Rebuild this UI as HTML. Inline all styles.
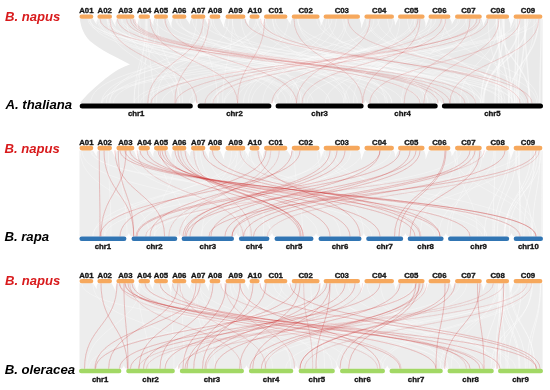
<!DOCTYPE html>
<html><head><meta charset="utf-8"><style>
html,body{margin:0;padding:0;background:#fff;}
svg{display:block;}
text{font-family:'Liberation Sans', Arial, sans-serif;font-weight:bold;}
</style></head><body>
<svg width="550" height="390" viewBox="0 0 550 390">
<defs><filter id="bl" x="-5%" y="-5%" width="110%" height="110%"><feGaussianBlur stdDeviation="0.45"/></filter><clipPath id="cp0"><path d="M79.8,18.8 L542.5,18.8 L542.5,103.4 L80,103.4 C84,97 100,82 113,73 C120,68 126,66 130,64.5 C118,58 100,50 90,41 C84,35 81,28 79.8,18.8 Z"/></clipPath><clipPath id="cp1"><path d="M79.5,150.4 L542.6,150.4 L542.6,236.5 L79.5,236.5 Z"/></clipPath><clipPath id="cp2"><path d="M79.5,283.3 L542.6,283.3 L542.6,368.8 L79.5,368.8 Z"/></clipPath></defs>
<rect width="550" height="390" fill="#fff"/>
<path d="M79.8,18.8 L542.5,18.8 L542.5,103.4 L80,103.4 C84,97 100,82 113,73 C120,68 126,66 130,64.5 C118,58 100,50 90,41 C84,35 81,28 79.8,18.8 Z" fill="#e9e9e9"/>
<g clip-path="url(#cp0)" fill="none" stroke="#fff" stroke-opacity="0.55" stroke-width="0.6">
<path d="M229.0,18.8 C229.0,61.1 149.4,61.1 149.4,103.4"/>
<path d="M379.4,18.8 C379.4,61.1 113.3,61.1 113.3,103.4"/>
<path d="M326.5,18.8 C326.5,61.1 248.2,61.1 248.2,103.4"/>
<path d="M106.7,18.8 C106.7,61.1 313.4,61.1 313.4,103.4"/>
<path d="M97.2,18.8 C97.2,61.1 279.5,61.1 279.5,103.4"/>
<path d="M275.3,18.8 C275.3,61.1 460.4,61.1 460.4,103.4"/>
<path d="M136.9,18.8 C136.9,61.1 182.7,61.1 182.7,103.4"/>
<path d="M368.6,18.8 C368.6,61.1 515.9,61.1 515.9,103.4"/>
<path d="M345.5,18.8 C345.5,61.1 262.5,61.1 262.5,103.4"/>
<path d="M529.1,18.8 C529.1,61.1 101.4,61.1 101.4,103.4"/>
<path d="M474.9,18.8 C474.9,61.1 213.2,61.1 213.2,103.4"/>
<path d="M146.4,18.8 C146.4,61.1 134.2,61.1 134.2,103.4"/>
<path d="M221.9,18.8 C221.9,61.1 455.4,61.1 455.4,103.4"/>
<path d="M163.1,18.8 C163.1,61.1 347.5,61.1 347.5,103.4"/>
<path d="M373.9,18.8 C373.9,61.1 251.3,61.1 251.3,103.4"/>
<path d="M332.0,18.8 C332.0,61.1 108.9,61.1 108.9,103.4"/>
<path d="M107.4,18.8 C107.4,61.1 174.7,61.1 174.7,103.4"/>
<path d="M393.0,18.8 C393.0,61.1 276.7,61.1 276.7,103.4"/>
<path d="M224.5,18.8 C224.5,61.1 349.4,61.1 349.4,103.4"/>
<path d="M288.5,18.8 C288.5,61.1 217.9,61.1 217.9,103.4"/>
<path d="M445.4,18.8 C445.4,61.1 401.5,61.1 401.5,103.4"/>
<path d="M192.3,18.8 C192.3,61.1 344.2,61.1 344.2,103.4"/>
<path d="M321.6,18.8 C321.6,61.1 482.6,61.1 482.6,103.4"/>
<path d="M415.5,18.8 C415.5,61.1 212.5,61.1 212.5,103.4"/>
<path d="M530.9,18.8 C530.9,61.1 134.3,61.1 134.3,103.4"/>
<path d="M272.3,18.8 C272.3,61.1 428.3,61.1 428.3,103.4"/>
<path d="M149.9,18.8 C149.9,61.1 304.9,61.1 304.9,103.4"/>
<path d="M98.0,18.8 C98.0,61.1 387.4,61.1 387.4,103.4"/>
<path d="M431.7,18.8 C431.7,61.1 343.6,61.1 343.6,103.4"/>
<path d="M482.7,18.8 C482.7,61.1 224.3,61.1 224.3,103.4"/>
<path d="M399.8,18.8 C399.8,61.1 353.4,61.1 353.4,103.4"/>
<path d="M346.8,18.8 C346.8,61.1 289.9,61.1 289.9,103.4"/>
<path d="M466.4,18.8 C466.4,61.1 514.6,61.1 514.6,103.4"/>
<path d="M298.1,18.8 C298.1,61.1 385.5,61.1 385.5,103.4"/>
<path d="M107.9,18.8 C107.9,61.1 402.7,61.1 402.7,103.4"/>
<path d="M377.7,18.8 C377.7,61.1 536.8,61.1 536.8,103.4"/>
<path d="M458.1,18.8 C458.1,61.1 210.9,61.1 210.9,103.4"/>
<path d="M257.5,18.8 C257.5,61.1 387.6,61.1 387.6,103.4"/>
<path d="M90.4,18.8 C90.4,61.1 292.4,61.1 292.4,103.4"/>
<path d="M157.3,18.8 C157.3,61.1 133.9,61.1 133.9,103.4"/>
<path d="M107.1,18.8 C107.1,61.1 433.4,61.1 433.4,103.4"/>
<path d="M139.5,18.8 C139.5,61.1 193.9,61.1 193.9,103.4"/>
<path d="M259.8,18.8 C259.8,61.1 480.9,61.1 480.9,103.4"/>
<path d="M117.1,18.8 C117.1,61.1 286.6,61.1 286.6,103.4"/>
</g>
<path d="M79.5,150.4 L542.6,150.4 L542.6,236.5 L79.5,236.5 Z" fill="#ededed"/>
<g clip-path="url(#cp1)" fill="none" stroke="#fff" stroke-opacity="0.55" stroke-width="0.6">
<path d="M332.7,150.4 C332.7,193.4 486.4,193.4 486.4,236.5"/>
<path d="M456.9,150.4 C456.9,193.4 477.4,193.4 477.4,236.5"/>
<path d="M208.1,150.4 C208.1,193.4 271.0,193.4 271.0,236.5"/>
<path d="M245.0,150.4 C245.0,193.4 486.7,193.4 486.7,236.5"/>
<path d="M520.6,150.4 C520.6,193.4 149.4,193.4 149.4,236.5"/>
<path d="M161.1,150.4 C161.1,193.4 186.7,193.4 186.7,236.5"/>
<path d="M187.3,150.4 C187.3,193.4 303.1,193.4 303.1,236.5"/>
<path d="M351.0,150.4 C351.0,193.4 200.9,193.4 200.9,236.5"/>
<path d="M81.9,150.4 C81.9,193.4 272.7,193.4 272.7,236.5"/>
<path d="M249.9,150.4 C249.9,193.4 340.5,193.4 340.5,236.5"/>
<path d="M518.4,150.4 C518.4,193.4 397.6,193.4 397.6,236.5"/>
<path d="M317.1,150.4 C317.1,193.4 364.1,193.4 364.1,236.5"/>
<path d="M391.1,150.4 C391.1,193.4 104.8,193.4 104.8,236.5"/>
<path d="M493.8,150.4 C493.8,193.4 438.8,193.4 438.8,236.5"/>
<path d="M482.3,150.4 C482.3,193.4 447.0,193.4 447.0,236.5"/>
<path d="M260.5,150.4 C260.5,193.4 263.5,193.4 263.5,236.5"/>
<path d="M127.6,150.4 C127.6,193.4 371.8,193.4 371.8,236.5"/>
<path d="M108.6,150.4 C108.6,193.4 111.0,193.4 111.0,236.5"/>
<path d="M176.0,150.4 C176.0,193.4 154.7,193.4 154.7,236.5"/>
<path d="M236.4,150.4 C236.4,193.4 104.2,193.4 104.2,236.5"/>
<path d="M80.1,150.4 C80.1,193.4 149.6,193.4 149.6,236.5"/>
<path d="M126.7,150.4 C126.7,193.4 247.3,193.4 247.3,236.5"/>
<path d="M91.7,150.4 C91.7,193.4 482.2,193.4 482.2,236.5"/>
<path d="M362.5,150.4 C362.5,193.4 148.3,193.4 148.3,236.5"/>
<path d="M196.0,150.4 C196.0,193.4 239.8,193.4 239.8,236.5"/>
<path d="M247.5,150.4 C247.5,193.4 136.5,193.4 136.5,236.5"/>
<path d="M470.5,150.4 C470.5,193.4 536.8,193.4 536.8,236.5"/>
<path d="M294.4,150.4 C294.4,193.4 302.6,193.4 302.6,236.5"/>
<path d="M119.5,150.4 C119.5,193.4 127.0,193.4 127.0,236.5"/>
<path d="M237.6,150.4 C237.6,193.4 201.8,193.4 201.8,236.5"/>
<path d="M461.3,150.4 C461.3,193.4 154.3,193.4 154.3,236.5"/>
<path d="M90.6,150.4 C90.6,193.4 517.5,193.4 517.5,236.5"/>
<path d="M323.0,150.4 C323.0,193.4 147.4,193.4 147.4,236.5"/>
<path d="M329.9,150.4 C329.9,193.4 92.4,193.4 92.4,236.5"/>
<path d="M322.9,150.4 C322.9,193.4 530.1,193.4 530.1,236.5"/>
<path d="M477.1,150.4 C477.1,193.4 400.3,193.4 400.3,236.5"/>
<path d="M200.1,150.4 C200.1,193.4 248.7,193.4 248.7,236.5"/>
<path d="M156.8,150.4 C156.8,193.4 435.1,193.4 435.1,236.5"/>
<path d="M325.0,150.4 C325.0,193.4 438.4,193.4 438.4,236.5"/>
<path d="M231.6,150.4 C231.6,193.4 182.6,193.4 182.6,236.5"/>
<path d="M453.3,150.4 C453.3,193.4 533.1,193.4 533.1,236.5"/>
<path d="M472.2,150.4 C472.2,193.4 450.8,193.4 450.8,236.5"/>
<path d="M456.4,150.4 C456.4,193.4 420.3,193.4 420.3,236.5"/>
<path d="M184.3,150.4 C184.3,193.4 318.1,193.4 318.1,236.5"/>
<path d="M243.6,150.4 C243.6,193.4 93.3,193.4 93.3,236.5"/>
</g>
<path d="M79.5,283.3 L542.6,283.3 L542.6,368.8 L79.5,368.8 Z" fill="#ededed"/>
<g clip-path="url(#cp2)" fill="none" stroke="#fff" stroke-opacity="0.55" stroke-width="0.6">
<path d="M92.9,283.3 C92.9,326.1 208.5,326.1 208.5,368.8"/>
<path d="M199.2,283.3 C199.2,326.1 398.6,326.1 398.6,368.8"/>
<path d="M520.0,283.3 C520.0,326.1 285.7,326.1 285.7,368.8"/>
<path d="M511.0,283.3 C511.0,326.1 534.5,326.1 534.5,368.8"/>
<path d="M519.3,283.3 C519.3,326.1 247.7,326.1 247.7,368.8"/>
<path d="M181.4,283.3 C181.4,326.1 184.3,326.1 184.3,368.8"/>
<path d="M170.5,283.3 C170.5,326.1 174.0,326.1 174.0,368.8"/>
<path d="M367.1,283.3 C367.1,326.1 494.1,326.1 494.1,368.8"/>
<path d="M466.6,283.3 C466.6,326.1 300.6,326.1 300.6,368.8"/>
<path d="M380.4,283.3 C380.4,326.1 447.8,326.1 447.8,368.8"/>
<path d="M119.0,283.3 C119.0,326.1 383.9,326.1 383.9,368.8"/>
<path d="M498.5,283.3 C498.5,326.1 439.9,326.1 439.9,368.8"/>
<path d="M425.1,283.3 C425.1,326.1 299.9,326.1 299.9,368.8"/>
<path d="M162.1,283.3 C162.1,326.1 443.0,326.1 443.0,368.8"/>
<path d="M233.0,283.3 C233.0,326.1 448.4,326.1 448.4,368.8"/>
<path d="M527.0,283.3 C527.0,326.1 262.1,326.1 262.1,368.8"/>
<path d="M264.6,283.3 C264.6,326.1 515.5,326.1 515.5,368.8"/>
<path d="M413.4,283.3 C413.4,326.1 158.2,326.1 158.2,368.8"/>
<path d="M138.4,283.3 C138.4,326.1 149.5,326.1 149.5,368.8"/>
<path d="M496.2,283.3 C496.2,326.1 451.0,326.1 451.0,368.8"/>
<path d="M147.2,283.3 C147.2,326.1 460.2,326.1 460.2,368.8"/>
<path d="M530.9,283.3 C530.9,326.1 382.3,326.1 382.3,368.8"/>
<path d="M241.2,283.3 C241.2,326.1 332.4,326.1 332.4,368.8"/>
<path d="M140.3,283.3 C140.3,326.1 86.6,326.1 86.6,368.8"/>
<path d="M526.6,283.3 C526.6,326.1 378.9,326.1 378.9,368.8"/>
<path d="M322.2,283.3 C322.2,326.1 509.5,326.1 509.5,368.8"/>
<path d="M279.6,283.3 C279.6,326.1 481.0,326.1 481.0,368.8"/>
<path d="M460.0,283.3 C460.0,326.1 177.1,326.1 177.1,368.8"/>
<path d="M195.8,283.3 C195.8,326.1 214.8,326.1 214.8,368.8"/>
<path d="M190.6,283.3 C190.6,326.1 349.8,326.1 349.8,368.8"/>
<path d="M199.3,283.3 C199.3,326.1 272.7,326.1 272.7,368.8"/>
<path d="M140.3,283.3 C140.3,326.1 498.6,326.1 498.6,368.8"/>
<path d="M242.7,283.3 C242.7,326.1 290.8,326.1 290.8,368.8"/>
<path d="M348.3,283.3 C348.3,326.1 496.0,326.1 496.0,368.8"/>
<path d="M273.5,283.3 C273.5,326.1 502.2,326.1 502.2,368.8"/>
<path d="M310.8,283.3 C310.8,326.1 324.6,326.1 324.6,368.8"/>
<path d="M320.8,283.3 C320.8,326.1 88.6,326.1 88.6,368.8"/>
<path d="M282.5,283.3 C282.5,326.1 164.2,326.1 164.2,368.8"/>
<path d="M81.8,283.3 C81.8,326.1 447.6,326.1 447.6,368.8"/>
<path d="M159.3,283.3 C159.3,326.1 297.8,326.1 297.8,368.8"/>
<path d="M413.6,283.3 C413.6,326.1 336.0,326.1 336.0,368.8"/>
<path d="M230.0,283.3 C230.0,326.1 318.4,326.1 318.4,368.8"/>
<path d="M335.5,283.3 C335.5,326.1 440.8,326.1 440.8,368.8"/>
<path d="M128.8,283.3 C128.8,326.1 337.7,326.1 337.7,368.8"/>
<path d="M194.3,283.3 C194.3,326.1 207.4,326.1 207.4,368.8"/>
</g>
<path d="M92.7,18.3 Q94.8,21.8 96.8,24.8 Q95.8,21.8 98.0,18.3 Z" fill="#fff" fill-opacity="0.9"/>
<path d="M111.4,18.3 Q113.7,22.8 115.7,26.8 Q114.7,22.8 117.0,18.3 Z" fill="#fff" fill-opacity="0.9"/>
<path d="M133.8,18.3 Q135.9,23.8 137.9,28.8 Q136.9,23.8 139.1,18.3 Z" fill="#fff" fill-opacity="0.9"/>
<path d="M149.4,18.3 Q151.5,22.3 153.5,25.8 Q152.5,22.3 154.6,18.3 Z" fill="#fff" fill-opacity="0.9"/>
<path d="M167.4,18.3 Q169.6,23.3 171.6,27.8 Q170.6,23.3 172.8,18.3 Z" fill="#fff" fill-opacity="0.9"/>
<path d="M185.8,18.3 Q188.2,21.8 190.2,24.8 Q189.2,21.8 191.6,18.3 Z" fill="#fff" fill-opacity="0.9"/>
<path d="M204.8,18.3 Q206.9,22.8 208.9,26.8 Q207.9,22.8 210.1,18.3 Z" fill="#fff" fill-opacity="0.9"/>
<path d="M219.8,18.3 Q222.4,23.8 224.4,28.8 Q223.4,23.8 226.1,18.3 Z" fill="#fff" fill-opacity="0.9"/>
<path d="M244.8,18.3 Q246.9,22.3 248.9,25.8 Q247.9,22.3 250.1,18.3 Z" fill="#fff" fill-opacity="0.9"/>
<path d="M259.0,18.3 Q261.3,23.3 263.3,27.8 Q262.3,23.3 264.6,18.3 Z" fill="#fff" fill-opacity="0.9"/>
<path d="M286.8,18.3 Q289.0,21.8 291.0,24.8 Q290.0,21.8 292.3,18.3 Z" fill="#fff" fill-opacity="0.9"/>
<path d="M319.0,18.3 Q321.1,22.8 320.6,26.8 Q322.1,22.8 324.2,18.3 Z" fill="#fff" fill-opacity="0.9"/>
<path d="M359.4,18.3 Q361.7,23.8 361.2,28.8 Q362.7,23.8 365.0,18.3 Z" fill="#fff" fill-opacity="0.9"/>
<path d="M393.4,18.3 Q395.5,22.3 395.0,25.8 Q396.5,22.3 398.6,18.3 Z" fill="#fff" fill-opacity="0.9"/>
<path d="M424.0,18.3 Q426.1,23.3 425.6,27.8 Q427.1,23.3 429.1,18.3 Z" fill="#fff" fill-opacity="0.9"/>
<path d="M449.8,18.3 Q452.2,21.8 451.7,24.8 Q453.2,21.8 455.6,18.3 Z" fill="#fff" fill-opacity="0.9"/>
<path d="M481.2,18.3 Q483.4,22.8 482.9,26.8 Q484.4,22.8 486.6,18.3 Z" fill="#fff" fill-opacity="0.9"/>
<path d="M508.5,18.3 Q510.9,23.8 510.4,28.8 Q511.9,23.8 514.2,18.3 Z" fill="#fff" fill-opacity="0.9"/>
<path d="M192.3,103.9 Q194.9,101.7 195.2,99.9 Q195.5,101.7 198.1,103.9 Z" fill="#fff" fill-opacity="0.9"/>
<path d="M270.9,103.9 Q273.2,101.7 273.5,99.9 Q273.8,101.7 276.1,103.9 Z" fill="#fff" fill-opacity="0.9"/>
<path d="M363.1,103.9 Q365.3,101.7 365.6,99.9 Q365.9,101.7 368.1,103.9 Z" fill="#fff" fill-opacity="0.9"/>
<path d="M437.2,103.9 Q439.5,101.7 439.8,99.9 Q440.1,101.7 442.4,103.9 Z" fill="#fff" fill-opacity="0.9"/>
<path d="M92.7,149.9 Q94.8,153.4 96.8,156.4 Q95.8,153.4 98.0,149.9 Z" fill="#fff" fill-opacity="0.9"/>
<path d="M111.4,149.9 Q113.7,154.4 115.7,158.4 Q114.7,154.4 117.0,149.9 Z" fill="#fff" fill-opacity="0.9"/>
<path d="M133.8,149.9 Q135.9,155.4 137.9,160.4 Q136.9,155.4 139.1,149.9 Z" fill="#fff" fill-opacity="0.9"/>
<path d="M149.4,149.9 Q151.5,153.9 153.5,157.4 Q152.5,153.9 154.6,149.9 Z" fill="#fff" fill-opacity="0.9"/>
<path d="M167.4,149.9 Q169.6,154.9 171.6,159.4 Q170.6,154.9 172.8,149.9 Z" fill="#fff" fill-opacity="0.9"/>
<path d="M185.8,149.9 Q188.2,153.4 190.2,156.4 Q189.2,153.4 191.6,149.9 Z" fill="#fff" fill-opacity="0.9"/>
<path d="M204.8,149.9 Q206.9,154.4 208.9,158.4 Q207.9,154.4 210.1,149.9 Z" fill="#fff" fill-opacity="0.9"/>
<path d="M219.8,149.9 Q222.4,155.4 224.4,160.4 Q223.4,155.4 226.1,149.9 Z" fill="#fff" fill-opacity="0.9"/>
<path d="M244.8,149.9 Q246.9,153.9 248.9,157.4 Q247.9,153.9 250.1,149.9 Z" fill="#fff" fill-opacity="0.9"/>
<path d="M259.0,149.9 Q261.3,154.9 263.3,159.4 Q262.3,154.9 264.6,149.9 Z" fill="#fff" fill-opacity="0.9"/>
<path d="M286.8,149.9 Q289.0,153.4 291.0,156.4 Q290.0,153.4 292.3,149.9 Z" fill="#fff" fill-opacity="0.9"/>
<path d="M319.0,149.9 Q321.1,154.4 320.6,158.4 Q322.1,154.4 324.2,149.9 Z" fill="#fff" fill-opacity="0.9"/>
<path d="M359.4,149.9 Q361.7,155.4 361.2,160.4 Q362.7,155.4 365.0,149.9 Z" fill="#fff" fill-opacity="0.9"/>
<path d="M393.4,149.9 Q395.5,153.9 395.0,157.4 Q396.5,153.9 398.6,149.9 Z" fill="#fff" fill-opacity="0.9"/>
<path d="M424.0,149.9 Q426.1,154.9 425.6,159.4 Q427.1,154.9 429.1,149.9 Z" fill="#fff" fill-opacity="0.9"/>
<path d="M449.8,149.9 Q452.2,153.4 451.7,156.4 Q453.2,153.4 455.6,149.9 Z" fill="#fff" fill-opacity="0.9"/>
<path d="M481.2,149.9 Q483.4,154.4 482.9,158.4 Q484.4,154.4 486.6,149.9 Z" fill="#fff" fill-opacity="0.9"/>
<path d="M508.5,149.9 Q510.9,155.4 510.4,160.4 Q511.9,155.4 514.2,149.9 Z" fill="#fff" fill-opacity="0.9"/>
<path d="M125.9,237.0 Q128.6,234.8 128.9,233.0 Q129.2,234.8 132.0,237.0 Z" fill="#fff" fill-opacity="0.9"/>
<path d="M176.8,237.0 Q179.1,234.8 179.4,233.0 Q179.8,234.8 182.1,237.0 Z" fill="#fff" fill-opacity="0.9"/>
<path d="M233.5,237.0 Q236.1,234.8 236.4,233.0 Q236.8,234.8 239.4,237.0 Z" fill="#fff" fill-opacity="0.9"/>
<path d="M268.9,237.0 Q271.6,234.8 271.9,233.0 Q272.2,234.8 275.0,237.0 Z" fill="#fff" fill-opacity="0.9"/>
<path d="M313.0,237.0 Q315.7,234.8 316.0,233.0 Q316.3,234.8 319.0,237.0 Z" fill="#fff" fill-opacity="0.9"/>
<path d="M361.0,237.0 Q363.6,234.8 363.9,233.0 Q364.2,234.8 366.7,237.0 Z" fill="#fff" fill-opacity="0.9"/>
<path d="M402.7,237.0 Q405.1,234.8 405.4,233.0 Q405.8,234.8 408.2,237.0 Z" fill="#fff" fill-opacity="0.9"/>
<path d="M443.1,237.0 Q445.5,234.8 445.8,233.0 Q446.1,234.8 448.5,237.0 Z" fill="#fff" fill-opacity="0.9"/>
<path d="M508.7,237.0 Q511.2,234.8 511.5,233.0 Q511.8,234.8 514.2,237.0 Z" fill="#fff" fill-opacity="0.9"/>
<path d="M92.7,282.8 Q94.8,286.3 96.8,289.3 Q95.8,286.3 98.0,282.8 Z" fill="#fff" fill-opacity="0.9"/>
<path d="M111.4,282.8 Q113.7,287.3 115.7,291.3 Q114.7,287.3 117.0,282.8 Z" fill="#fff" fill-opacity="0.9"/>
<path d="M133.8,282.8 Q135.9,288.3 137.9,293.3 Q136.9,288.3 139.1,282.8 Z" fill="#fff" fill-opacity="0.9"/>
<path d="M149.4,282.8 Q151.5,286.8 153.5,290.3 Q152.5,286.8 154.6,282.8 Z" fill="#fff" fill-opacity="0.9"/>
<path d="M167.4,282.8 Q169.6,287.8 171.6,292.3 Q170.6,287.8 172.8,282.8 Z" fill="#fff" fill-opacity="0.9"/>
<path d="M185.8,282.8 Q188.2,286.3 190.2,289.3 Q189.2,286.3 191.6,282.8 Z" fill="#fff" fill-opacity="0.9"/>
<path d="M204.8,282.8 Q206.9,287.3 208.9,291.3 Q207.9,287.3 210.1,282.8 Z" fill="#fff" fill-opacity="0.9"/>
<path d="M219.8,282.8 Q222.4,288.3 224.4,293.3 Q223.4,288.3 226.1,282.8 Z" fill="#fff" fill-opacity="0.9"/>
<path d="M244.8,282.8 Q246.9,286.8 248.9,290.3 Q247.9,286.8 250.1,282.8 Z" fill="#fff" fill-opacity="0.9"/>
<path d="M259.0,282.8 Q261.3,287.8 263.3,292.3 Q262.3,287.8 264.6,282.8 Z" fill="#fff" fill-opacity="0.9"/>
<path d="M286.8,282.8 Q289.0,286.3 291.0,289.3 Q290.0,286.3 292.3,282.8 Z" fill="#fff" fill-opacity="0.9"/>
<path d="M319.0,282.8 Q321.1,287.3 320.6,291.3 Q322.1,287.3 324.2,282.8 Z" fill="#fff" fill-opacity="0.9"/>
<path d="M359.4,282.8 Q361.7,288.3 361.2,293.3 Q362.7,288.3 365.0,282.8 Z" fill="#fff" fill-opacity="0.9"/>
<path d="M393.4,282.8 Q395.5,286.8 395.0,290.3 Q396.5,286.8 398.6,282.8 Z" fill="#fff" fill-opacity="0.9"/>
<path d="M424.0,282.8 Q426.1,287.8 425.6,292.3 Q427.1,287.8 429.1,282.8 Z" fill="#fff" fill-opacity="0.9"/>
<path d="M449.8,282.8 Q452.2,286.3 451.7,289.3 Q453.2,286.3 455.6,282.8 Z" fill="#fff" fill-opacity="0.9"/>
<path d="M481.2,282.8 Q483.4,287.3 482.9,291.3 Q484.4,287.3 486.6,282.8 Z" fill="#fff" fill-opacity="0.9"/>
<path d="M508.5,282.8 Q510.9,288.3 510.4,293.3 Q511.9,288.3 514.2,282.8 Z" fill="#fff" fill-opacity="0.9"/>
<path d="M120.9,369.3 Q123.5,367.1 123.8,365.3 Q124.1,367.1 126.7,369.3 Z" fill="#fff" fill-opacity="0.9"/>
<path d="M174.4,369.3 Q177.1,367.1 177.4,365.3 Q177.7,367.1 180.3,369.3 Z" fill="#fff" fill-opacity="0.9"/>
<path d="M243.5,369.3 Q246.1,367.1 246.4,365.3 Q246.8,367.1 249.4,369.3 Z" fill="#fff" fill-opacity="0.9"/>
<path d="M292.8,369.3 Q295.7,367.1 296.0,365.3 Q296.3,367.1 299.1,369.3 Z" fill="#fff" fill-opacity="0.9"/>
<path d="M334.4,369.3 Q337.1,367.1 337.4,365.3 Q337.8,367.1 340.5,369.3 Z" fill="#fff" fill-opacity="0.9"/>
<path d="M384.5,369.3 Q386.9,367.1 387.2,365.3 Q387.6,367.1 390.0,369.3 Z" fill="#fff" fill-opacity="0.9"/>
<path d="M442.3,369.3 Q444.8,367.1 445.1,365.3 Q445.4,367.1 448.0,369.3 Z" fill="#fff" fill-opacity="0.9"/>
<path d="M493.3,369.3 Q495.6,367.1 495.9,365.3 Q496.2,367.1 498.5,369.3 Z" fill="#fff" fill-opacity="0.9"/>
<g clip-path="url(#cp0)" fill="none" stroke="#fff" stroke-opacity="0.6" stroke-width="0.6">
<path d="M87.9,18.8 C87.9,61.1 421.2,61.1 421.2,103.4"/>
<path d="M89.9,18.8 C89.9,61.1 513.5,61.1 513.5,103.4"/>
<path d="M89.2,18.8 C89.2,61.1 504.3,61.1 504.3,103.4"/>
<path d="M98.8,18.8 C98.8,61.1 294.2,61.1 294.2,103.4"/>
<path d="M110.3,18.8 C110.3,61.1 378.5,61.1 378.5,103.4"/>
<path d="M109.8,18.8 C109.8,61.1 295.8,61.1 295.8,103.4"/>
<path d="M121.3,18.8 C121.3,61.1 330.1,61.1 330.1,103.4"/>
<path d="M126.6,18.8 C126.6,61.1 179.7,61.1 179.7,103.4"/>
<path d="M121.9,18.8 C121.9,61.1 501.5,61.1 501.5,103.4"/>
<path d="M146.8,18.8 C146.8,61.1 153.4,61.1 153.4,103.4"/>
<path d="M147.1,18.8 C147.1,61.1 143.8,61.1 143.8,103.4"/>
<path d="M145.4,18.8 C145.4,61.1 138.3,61.1 138.3,103.4"/>
<path d="M155.0,18.8 C155.0,61.1 480.8,61.1 480.8,103.4"/>
<path d="M157.5,18.8 C157.5,61.1 179.1,61.1 179.1,103.4"/>
<path d="M166.8,18.8 C166.8,61.1 481.3,61.1 481.3,103.4"/>
<path d="M176.7,18.8 C176.7,61.1 522.3,61.1 522.3,103.4"/>
<path d="M179.8,18.8 C179.8,61.1 391.8,61.1 391.8,103.4"/>
<path d="M175.7,18.8 C175.7,61.1 512.8,61.1 512.8,103.4"/>
<path d="M200.6,18.8 C200.6,61.1 524.6,61.1 524.6,103.4"/>
<path d="M203.1,18.8 C203.1,61.1 217.4,61.1 217.4,103.4"/>
<path d="M196.5,18.8 C196.5,61.1 156.3,61.1 156.3,103.4"/>
<path d="M211.8,18.8 C211.8,61.1 110.0,61.1 110.0,103.4"/>
<path d="M213.2,18.8 C213.2,61.1 357.4,61.1 357.4,103.4"/>
<path d="M210.5,18.8 C210.5,61.1 391.8,61.1 391.8,103.4"/>
<path d="M232.5,18.8 C232.5,61.1 222.6,61.1 222.6,103.4"/>
<path d="M241.2,18.8 C241.2,61.1 301.1,61.1 301.1,103.4"/>
<path d="M232.2,18.8 C232.2,61.1 301.4,61.1 301.4,103.4"/>
<path d="M256.2,18.8 C256.2,61.1 106.2,61.1 106.2,103.4"/>
<path d="M258.4,18.8 C258.4,61.1 90.5,61.1 90.5,103.4"/>
<path d="M256.6,18.8 C256.6,61.1 468.6,61.1 468.6,103.4"/>
<path d="M265.4,18.8 C265.4,61.1 442.4,61.1 442.4,103.4"/>
<path d="M272.8,18.8 C272.8,61.1 346.1,61.1 346.1,103.4"/>
<path d="M265.2,18.8 C265.2,61.1 101.5,61.1 101.5,103.4"/>
<path d="M297.4,18.8 C297.4,61.1 519.4,61.1 519.4,103.4"/>
<path d="M297.8,18.8 C297.8,61.1 427.6,61.1 427.6,103.4"/>
<path d="M316.8,18.8 C316.8,61.1 513.3,61.1 513.3,103.4"/>
<path d="M336.4,18.8 C336.4,61.1 243.2,61.1 243.2,103.4"/>
<path d="M342.6,18.8 C342.6,61.1 436.8,61.1 436.8,103.4"/>
<path d="M328.3,18.8 C328.3,61.1 424.3,61.1 424.3,103.4"/>
<path d="M387.4,18.8 C387.4,61.1 475.5,61.1 475.5,103.4"/>
<path d="M366.4,18.8 C366.4,61.1 515.1,61.1 515.1,103.4"/>
<path d="M367.9,18.8 C367.9,61.1 236.7,61.1 236.7,103.4"/>
<path d="M414.0,18.8 C414.0,61.1 502.3,61.1 502.3,103.4"/>
<path d="M407.4,18.8 C407.4,61.1 505.1,61.1 505.1,103.4"/>
<path d="M412.4,18.8 C412.4,61.1 223.7,61.1 223.7,103.4"/>
<path d="M435.8,18.8 C435.8,61.1 161.6,61.1 161.6,103.4"/>
<path d="M431.1,18.8 C431.1,61.1 148.5,61.1 148.5,103.4"/>
<path d="M443.2,18.8 C443.2,61.1 538.5,61.1 538.5,103.4"/>
<path d="M460.0,18.8 C460.0,61.1 102.3,61.1 102.3,103.4"/>
<path d="M480.5,18.8 C480.5,61.1 325.4,61.1 325.4,103.4"/>
<path d="M466.1,18.8 C466.1,61.1 189.2,61.1 189.2,103.4"/>
<path d="M499.5,18.8 C499.5,61.1 460.1,61.1 460.1,103.4"/>
<path d="M496.6,18.8 C496.6,61.1 274.0,61.1 274.0,103.4"/>
<path d="M488.2,18.8 C488.2,61.1 501.4,61.1 501.4,103.4"/>
<path d="M515.5,18.8 C515.5,61.1 307.0,61.1 307.0,103.4"/>
<path d="M537.1,18.8 C537.1,61.1 140.1,61.1 140.1,103.4"/>
<path d="M534.2,18.8 C534.2,61.1 516.9,61.1 516.9,103.4"/>
</g>
<g clip-path="url(#cp0)" fill="none" stroke="#fff" stroke-opacity="0.5" stroke-width="1.4">
<path d="M516.3,18.8 C516.3,61.1 514.7,61.1 514.7,103.4"/>
<path d="M538.4,18.8 C538.4,61.1 508.9,61.1 508.9,103.4"/>
<path d="M518.9,18.8 C518.9,61.1 516.4,61.1 516.4,103.4"/>
<path d="M503.7,18.8 C503.7,61.1 511.7,61.1 511.7,103.4"/>
<path d="M524.6,18.8 C524.6,61.1 529.2,61.1 529.2,103.4"/>
<path d="M499.4,18.8 C499.4,61.1 498.8,61.1 498.8,103.4"/>
<path d="M499.3,18.8 C499.3,61.1 530.2,61.1 530.2,103.4"/>
<path d="M527.6,18.8 C527.6,61.1 482.6,61.1 482.6,103.4"/>
<path d="M541.2,18.8 C541.2,61.1 539.8,61.1 539.8,103.4"/>
<path d="M525.7,18.8 C525.7,61.1 518.2,61.1 518.2,103.4"/>
<path d="M502.4,18.8 C502.4,61.1 480.9,61.1 480.9,103.4"/>
<path d="M519.8,18.8 C519.8,61.1 483.7,61.1 483.7,103.4"/>
<path d="M503.9,18.8 C503.9,61.1 495.0,61.1 495.0,103.4"/>
<path d="M496.4,18.8 C496.4,61.1 508.8,61.1 508.8,103.4"/>
</g>
<g clip-path="url(#cp1)" fill="none" stroke="#fff" stroke-opacity="0.5" stroke-width="0.9">
<path d="M515.7,150.4 C515.7,193.4 532.2,193.4 532.2,236.5"/>
<path d="M519.4,150.4 C519.4,193.4 519.7,193.4 519.7,236.5"/>
<path d="M518.5,150.4 C518.5,193.4 521.1,193.4 521.1,236.5"/>
<path d="M516.5,150.4 C516.5,193.4 497.2,193.4 497.2,236.5"/>
<path d="M541.9,150.4 C541.9,193.4 541.7,193.4 541.7,236.5"/>
<path d="M534.5,150.4 C534.5,193.4 523.9,193.4 523.9,236.5"/>
<path d="M509.8,150.4 C509.8,193.4 494.2,193.4 494.2,236.5"/>
<path d="M508.6,150.4 C508.6,193.4 484.4,193.4 484.4,236.5"/>
<path d="M531.0,150.4 C531.0,193.4 504.8,193.4 504.8,236.5"/>
<path d="M534.8,150.4 C534.8,193.4 504.0,193.4 504.0,236.5"/>
<path d="M540.0,150.4 C540.0,193.4 532.5,193.4 532.5,236.5"/>
<path d="M495.0,150.4 C495.0,193.4 493.0,193.4 493.0,236.5"/>
<path d="M537.8,150.4 C537.8,193.4 509.1,193.4 509.1,236.5"/>
<path d="M541.1,150.4 C541.1,193.4 504.6,193.4 504.6,236.5"/>
</g>
<g clip-path="url(#cp2)" fill="none" stroke="#fff" stroke-opacity="0.5" stroke-width="0.9">
<path d="M498.4,283.3 C498.4,326.1 519.0,326.1 519.0,368.8"/>
<path d="M531.6,283.3 C531.6,326.1 496.7,326.1 496.7,368.8"/>
<path d="M499.1,283.3 C499.1,326.1 500.6,326.1 500.6,368.8"/>
<path d="M540.3,283.3 C540.3,326.1 527.0,326.1 527.0,368.8"/>
<path d="M500.5,283.3 C500.5,326.1 495.3,326.1 495.3,368.8"/>
<path d="M499.7,283.3 C499.7,326.1 483.7,326.1 483.7,368.8"/>
<path d="M532.5,283.3 C532.5,326.1 491.0,326.1 491.0,368.8"/>
<path d="M521.3,283.3 C521.3,326.1 507.7,326.1 507.7,368.8"/>
<path d="M504.0,283.3 C504.0,326.1 525.4,326.1 525.4,368.8"/>
<path d="M501.2,283.3 C501.2,326.1 519.9,326.1 519.9,368.8"/>
<path d="M500.5,283.3 C500.5,326.1 506.1,326.1 506.1,368.8"/>
<path d="M505.0,283.3 C505.0,326.1 496.7,326.1 496.7,368.8"/>
<path d="M540.6,283.3 C540.6,326.1 529.8,326.1 529.8,368.8"/>
<path d="M509.3,283.3 C509.3,326.1 534.9,326.1 534.9,368.8"/>
</g>
<g fill="none" stroke="#cc2626" stroke-width="0.5" stroke-opacity="0.3" filter="url(#bl)">
<path d="M126.4,18.8 C126.4,61.1 443.8,61.1 443.8,103.4"/>
<path d="M441.4,18.8 C441.4,61.1 205.0,61.1 205.0,103.4"/>
<path d="M134.6,18.8 C134.6,61.1 475.7,61.1 475.7,103.4"/>
<path d="M488.1,18.8 C488.1,61.1 213.0,61.1 213.0,103.4"/>
</g>
<g fill="none" stroke="#cc2626" stroke-width="0.5" stroke-opacity="0.3" filter="url(#bl)">
<path d="M180.8,150.4 C180.8,193.4 303.2,193.4 303.2,236.5"/>
<path d="M270.9,150.4 C270.9,193.4 179.1,193.4 179.1,236.5"/>
<path d="M193.7,150.4 C193.7,193.4 251.5,193.4 251.5,236.5"/>
<path d="M484.3,150.4 C484.3,193.4 145.7,193.4 145.7,236.5"/>
<path d="M137.2,150.4 C137.2,193.4 243.1,193.4 243.1,236.5"/>
<path d="M539.3,150.4 C539.3,193.4 267.3,193.4 267.3,236.5"/>
<path d="M240.0,150.4 C240.0,193.4 420.9,193.4 420.9,236.5"/>
<path d="M279.2,150.4 C279.2,193.4 168.9,193.4 168.9,236.5"/>
</g>
<g fill="none" stroke="#cc2626" stroke-width="0.5" stroke-opacity="0.3" filter="url(#bl)">
<path d="M179.6,283.3 C179.6,326.1 265.9,326.1 265.9,368.8"/>
<path d="M527.0,283.3 C527.0,326.1 178.4,326.1 178.4,368.8"/>
<path d="M124.8,283.3 C124.8,326.1 483.4,326.1 483.4,368.8"/>
<path d="M303.7,283.3 C303.7,326.1 312.7,326.1 312.7,368.8"/>
<path d="M172.5,283.3 C172.5,326.1 401.1,326.1 401.1,368.8"/>
<path d="M362.6,283.3 C362.6,326.1 206.3,326.1 206.3,368.8"/>
<path d="M129.9,283.3 C129.9,326.1 241.5,326.1 241.5,368.8"/>
<path d="M503.8,283.3 C503.8,326.1 146.4,326.1 146.4,368.8"/>
<path d="M224.8,283.3 C224.8,326.1 294.7,326.1 294.7,368.8"/>
<path d="M531.6,283.3 C531.6,326.1 304.6,326.1 304.6,368.8"/>
<path d="M220.8,283.3 C220.8,326.1 466.5,326.1 466.5,368.8"/>
<path d="M426.8,283.3 C426.8,326.1 265.1,326.1 265.1,368.8"/>
<path d="M119.6,283.3 C119.6,326.1 377.7,326.1 377.7,368.8"/>
<path d="M493.3,283.3 C493.3,326.1 138.3,326.1 138.3,368.8"/>
</g>
<g fill="none" stroke="#cc2626" stroke-width="0.6" stroke-opacity="0.27" filter="url(#bl)">
<path d="M100.0,18.8 C100.0,61.1 465.0,61.1 465.0,103.4"/>
<path d="M110.0,18.8 C110.0,61.1 197.0,61.1 197.0,103.4"/>
<path d="M117.3,18.8 C117.3,61.1 420.0,61.1 420.0,103.4"/>
<path d="M130.4,18.8 C130.4,61.1 438.0,61.1 438.0,103.4"/>
<path d="M133.0,18.8 C133.0,61.1 450.0,61.1 450.0,103.4"/>
<path d="M165.0,18.8 C165.0,61.1 296.4,61.1 296.4,103.4"/>
<path d="M203.4,18.8 C203.4,61.1 147.8,61.1 147.8,103.4"/>
<path d="M209.0,18.8 C209.0,61.1 174.8,61.1 174.8,103.4"/>
<path d="M480.2,18.8 C480.2,61.1 151.0,61.1 151.0,103.4"/>
<path d="M477.0,18.8 C477.0,61.1 175.6,61.1 175.6,103.4"/>
<path d="M150.0,18.8 C150.0,61.1 237.6,61.1 237.6,103.4"/>
<path d="M264.6,18.8 C264.6,61.1 237.6,61.1 237.6,103.4"/>
<path d="M370.0,18.8 C370.0,61.1 296.4,61.1 296.4,103.4"/>
<path d="M294.0,18.8 C294.0,61.1 362.7,61.1 362.7,103.4"/>
<path d="M420.0,18.8 C420.0,61.1 362.7,61.1 362.7,103.4"/>
<path d="M260.5,18.8 C260.5,61.1 520.0,61.1 520.0,103.4"/>
<path d="M348.0,18.8 C348.0,61.1 528.0,61.1 528.0,103.4"/>
<path d="M418.0,18.8 C418.0,61.1 272.0,61.1 272.0,103.4"/>
<path d="M445.7,18.8 C445.7,61.1 302.0,61.1 302.0,103.4"/>
<path d="M499.0,18.8 C499.0,61.1 423.8,61.1 423.8,103.4"/>
<path d="M538.8,18.8 C538.8,61.1 449.8,61.1 449.8,103.4"/>
<path d="M245.0,18.8 C245.0,61.1 532.0,61.1 532.0,103.4"/>
<path d="M470.0,18.8 C470.0,61.1 404.2,61.1 404.2,103.4"/>
<path d="M520.0,18.8 C520.0,61.1 369.8,61.1 369.8,103.4"/>
</g>
<g fill="none" stroke="#cc2626" stroke-width="0.6" stroke-opacity="0.42" filter="url(#bl)">
<path d="M104.0,150.4 C104.0,193.4 133.7,193.4 133.7,236.5"/>
<path d="M118.3,150.4 C118.3,193.4 133.7,193.4 133.7,236.5"/>
<path d="M126.0,150.4 C126.0,193.4 101.0,193.4 101.0,236.5"/>
<path d="M115.0,150.4 C115.0,193.4 164.6,193.4 164.6,236.5"/>
<path d="M99.3,150.4 C99.3,193.4 100.0,193.4 100.0,236.5"/>
<path d="M120.0,150.4 C120.0,193.4 536.0,193.4 536.0,236.5"/>
<path d="M125.0,150.4 C125.0,193.4 536.0,193.4 536.0,236.5"/>
<path d="M130.0,150.4 C130.0,193.4 520.0,193.4 520.0,236.5"/>
<path d="M140.0,150.4 C140.0,193.4 470.0,193.4 470.0,236.5"/>
<path d="M147.0,150.4 C147.0,193.4 440.0,193.4 440.0,236.5"/>
<path d="M158.0,150.4 C158.0,193.4 415.0,193.4 415.0,236.5"/>
<path d="M162.0,150.4 C162.0,193.4 380.0,193.4 380.0,236.5"/>
<path d="M165.0,150.4 C165.0,193.4 350.0,193.4 350.0,236.5"/>
<path d="M203.0,150.4 C203.0,193.4 420.0,193.4 420.0,236.5"/>
<path d="M178.0,150.4 C178.0,193.4 303.0,193.4 303.0,236.5"/>
<path d="M185.0,150.4 C185.0,193.4 301.0,193.4 301.0,236.5"/>
<path d="M160.0,150.4 C160.0,193.4 300.0,193.4 300.0,236.5"/>
<path d="M175.0,150.4 C175.0,193.4 330.0,193.4 330.0,236.5"/>
<path d="M212.4,150.4 C212.4,193.4 440.0,193.4 440.0,236.5"/>
<path d="M258.0,150.4 C258.0,193.4 360.0,193.4 360.0,236.5"/>
<path d="M330.0,150.4 C330.0,193.4 185.0,193.4 185.0,236.5"/>
<path d="M345.0,150.4 C345.0,193.4 190.0,193.4 190.0,236.5"/>
<path d="M380.0,150.4 C380.0,193.4 211.0,193.4 211.0,236.5"/>
<path d="M410.0,150.4 C410.0,193.4 225.0,193.4 225.0,236.5"/>
<path d="M420.0,150.4 C420.0,193.4 232.0,193.4 232.0,236.5"/>
<path d="M300.0,150.4 C300.0,193.4 100.0,193.4 100.0,236.5"/>
<path d="M380.0,150.4 C380.0,193.4 136.0,193.4 136.0,236.5"/>
<path d="M400.0,150.4 C400.0,193.4 137.0,193.4 137.0,236.5"/>
<path d="M266.0,150.4 C266.0,193.4 120.0,193.4 120.0,236.5"/>
<path d="M292.0,150.4 C292.0,193.4 150.0,193.4 150.0,236.5"/>
<path d="M337.0,150.4 C337.0,193.4 183.0,193.4 183.0,236.5"/>
<path d="M445.0,150.4 C445.0,193.4 394.5,193.4 394.5,236.5"/>
<path d="M446.0,150.4 C446.0,193.4 399.0,193.4 399.0,236.5"/>
<path d="M480.0,150.4 C480.0,193.4 410.0,193.4 410.0,236.5"/>
<path d="M475.0,150.4 C475.0,193.4 243.5,193.4 243.5,236.5"/>
<path d="M536.0,150.4 C536.0,193.4 209.0,193.4 209.0,236.5"/>
<path d="M505.0,150.4 C505.0,193.4 253.5,193.4 253.5,236.5"/>
<path d="M470.0,150.4 C470.0,193.4 232.0,193.4 232.0,236.5"/>
<path d="M416.0,150.4 C416.0,193.4 186.2,193.4 186.2,236.5"/>
</g>
<g fill="none" stroke="#cc2626" stroke-width="0.6" stroke-opacity="0.42" filter="url(#bl)">
<path d="M117.0,283.3 C117.0,326.1 84.5,326.1 84.5,368.8"/>
<path d="M101.0,283.3 C101.0,326.1 127.5,326.1 127.5,368.8"/>
<path d="M124.0,283.3 C124.0,326.1 128.0,326.1 128.0,368.8"/>
<path d="M178.0,283.3 C178.0,326.1 108.6,326.1 108.6,368.8"/>
<path d="M196.0,283.3 C196.0,326.1 139.0,326.1 139.0,368.8"/>
<path d="M226.0,283.3 C226.0,326.1 183.0,326.1 183.0,368.8"/>
<path d="M240.0,283.3 C240.0,326.1 193.7,326.1 193.7,368.8"/>
<path d="M253.0,283.3 C253.0,326.1 202.5,326.1 202.5,368.8"/>
<path d="M266.0,283.3 C266.0,326.1 187.0,326.1 187.0,368.8"/>
<path d="M296.0,283.3 C296.0,326.1 143.5,326.1 143.5,368.8"/>
<path d="M200.0,283.3 C200.0,326.1 95.0,326.1 95.0,368.8"/>
<path d="M213.0,283.3 C213.0,326.1 160.0,326.1 160.0,368.8"/>
<path d="M119.5,283.3 C119.5,326.1 536.4,326.1 536.4,368.8"/>
<path d="M125.0,283.3 C125.0,326.1 480.0,326.1 480.0,368.8"/>
<path d="M132.0,283.3 C132.0,326.1 436.0,326.1 436.0,368.8"/>
<path d="M145.0,283.3 C145.0,326.1 500.0,326.1 500.0,368.8"/>
<path d="M160.0,283.3 C160.0,326.1 470.0,326.1 470.0,368.8"/>
<path d="M128.0,283.3 C128.0,326.1 400.0,326.1 400.0,368.8"/>
<path d="M326.8,283.3 C326.8,326.1 95.5,326.1 95.5,368.8"/>
<path d="M380.0,283.3 C380.0,326.1 119.5,326.1 119.5,368.8"/>
<path d="M416.0,283.3 C416.0,326.1 130.4,326.1 130.4,368.8"/>
<path d="M345.0,283.3 C345.0,326.1 165.0,326.1 165.0,368.8"/>
<path d="M355.0,283.3 C355.0,326.1 185.0,326.1 185.0,368.8"/>
<path d="M416.0,283.3 C416.0,326.1 340.0,326.1 340.0,368.8"/>
<path d="M419.0,283.3 C419.0,326.1 348.7,326.1 348.7,368.8"/>
<path d="M423.0,283.3 C423.0,326.1 250.0,326.1 250.0,368.8"/>
<path d="M400.0,283.3 C400.0,326.1 215.0,326.1 215.0,368.8"/>
<path d="M445.0,283.3 C445.0,326.1 436.0,326.1 436.0,368.8"/>
<path d="M449.0,283.3 C449.0,326.1 300.0,326.1 300.0,368.8"/>
<path d="M477.5,283.3 C477.5,326.1 484.0,326.1 484.0,368.8"/>
<path d="M480.0,283.3 C480.0,326.1 444.7,326.1 444.7,368.8"/>
<path d="M503.7,283.3 C503.7,326.1 497.0,326.1 497.0,368.8"/>
<path d="M330.0,283.3 C330.0,326.1 316.0,326.1 316.0,368.8"/>
<path d="M260.0,283.3 C260.0,326.1 536.4,326.1 536.4,368.8"/>
<path d="M290.0,283.3 C290.0,326.1 540.0,326.1 540.0,368.8"/>
<path d="M300.0,283.3 C300.0,326.1 239.6,326.1 239.6,368.8"/>
<path d="M330.0,283.3 C330.0,326.1 252.7,326.1 252.7,368.8"/>
<path d="M420.0,283.3 C420.0,326.1 261.4,326.1 261.4,368.8"/>
<path d="M240.0,283.3 C240.0,326.1 380.0,326.1 380.0,368.8"/>
<path d="M320.0,283.3 C320.0,326.1 205.0,326.1 205.0,368.8"/>
<path d="M455.0,283.3 C455.0,326.1 300.0,326.1 300.0,368.8"/>
</g>
<rect x="79.5" y="14.6" width="13.8" height="4.2" rx="2.1" fill="#f6a85d"/>
<text x="86.4" y="13.3" font-size="7.8" fill="#151515" stroke="#151515" stroke-width="0.35" text-anchor="middle">A01</text>
<rect x="97.4" y="14.6" width="14.6" height="4.2" rx="2.1" fill="#f6a85d"/>
<text x="104.7" y="13.3" font-size="7.8" fill="#151515" stroke="#151515" stroke-width="0.35" text-anchor="middle">A02</text>
<rect x="116.4" y="14.6" width="18.0" height="4.2" rx="2.1" fill="#f6a85d"/>
<text x="125.4" y="13.3" font-size="7.8" fill="#151515" stroke="#151515" stroke-width="0.35" text-anchor="middle">A03</text>
<rect x="138.5" y="14.6" width="11.5" height="4.2" rx="2.1" fill="#f6a85d"/>
<text x="144.2" y="13.3" font-size="7.8" fill="#151515" stroke="#151515" stroke-width="0.35" text-anchor="middle">A04</text>
<rect x="154.0" y="14.6" width="14.0" height="4.2" rx="2.1" fill="#f6a85d"/>
<text x="161.0" y="13.3" font-size="7.8" fill="#151515" stroke="#151515" stroke-width="0.35" text-anchor="middle">A05</text>
<rect x="172.2" y="14.6" width="14.2" height="4.2" rx="2.1" fill="#f6a85d"/>
<text x="179.3" y="13.3" font-size="7.8" fill="#151515" stroke="#151515" stroke-width="0.35" text-anchor="middle">A06</text>
<rect x="191.0" y="14.6" width="14.4" height="4.2" rx="2.1" fill="#f6a85d"/>
<text x="198.2" y="13.3" font-size="7.8" fill="#151515" stroke="#151515" stroke-width="0.35" text-anchor="middle">A07</text>
<rect x="209.5" y="14.6" width="10.9" height="4.2" rx="2.1" fill="#f6a85d"/>
<text x="214.9" y="13.3" font-size="7.8" fill="#151515" stroke="#151515" stroke-width="0.35" text-anchor="middle">A08</text>
<rect x="225.5" y="14.6" width="19.9" height="4.2" rx="2.1" fill="#f6a85d"/>
<text x="235.4" y="13.3" font-size="7.8" fill="#151515" stroke="#151515" stroke-width="0.35" text-anchor="middle">A09</text>
<rect x="249.5" y="14.6" width="10.1" height="4.2" rx="2.1" fill="#f6a85d"/>
<text x="254.6" y="13.3" font-size="7.8" fill="#151515" stroke="#151515" stroke-width="0.35" text-anchor="middle">A10</text>
<rect x="264.0" y="14.6" width="23.4" height="4.2" rx="2.1" fill="#f6a85d"/>
<text x="275.7" y="13.3" font-size="7.8" fill="#151515" stroke="#151515" stroke-width="0.35" text-anchor="middle">C01</text>
<rect x="291.7" y="14.6" width="27.9" height="4.2" rx="2.1" fill="#f6a85d"/>
<text x="305.6" y="13.3" font-size="7.8" fill="#151515" stroke="#151515" stroke-width="0.35" text-anchor="middle">C02</text>
<rect x="323.6" y="14.6" width="36.4" height="4.2" rx="2.1" fill="#f6a85d"/>
<text x="341.8" y="13.3" font-size="7.8" fill="#151515" stroke="#151515" stroke-width="0.35" text-anchor="middle">C03</text>
<rect x="364.4" y="14.6" width="29.6" height="4.2" rx="2.1" fill="#f6a85d"/>
<text x="379.2" y="13.3" font-size="7.8" fill="#151515" stroke="#151515" stroke-width="0.35" text-anchor="middle">C04</text>
<rect x="398.0" y="14.6" width="26.6" height="4.2" rx="2.1" fill="#f6a85d"/>
<text x="411.3" y="13.3" font-size="7.8" fill="#151515" stroke="#151515" stroke-width="0.35" text-anchor="middle">C05</text>
<rect x="428.5" y="14.6" width="21.9" height="4.2" rx="2.1" fill="#f6a85d"/>
<text x="439.4" y="13.3" font-size="7.8" fill="#151515" stroke="#151515" stroke-width="0.35" text-anchor="middle">C06</text>
<rect x="455.0" y="14.6" width="26.8" height="4.2" rx="2.1" fill="#f6a85d"/>
<text x="468.4" y="13.3" font-size="7.8" fill="#151515" stroke="#151515" stroke-width="0.35" text-anchor="middle">C07</text>
<rect x="486.0" y="14.6" width="23.1" height="4.2" rx="2.1" fill="#f6a85d"/>
<text x="497.6" y="13.3" font-size="7.8" fill="#151515" stroke="#151515" stroke-width="0.35" text-anchor="middle">C08</text>
<rect x="513.6" y="14.6" width="28.8" height="4.2" rx="2.1" fill="#f6a85d"/>
<text x="528.0" y="13.3" font-size="7.8" fill="#151515" stroke="#151515" stroke-width="0.35" text-anchor="middle">C09</text>
<rect x="79.7" y="103.4" width="113.1" height="5.1" rx="2.5" fill="#000000"/>
<text x="136.2" y="116.0" font-size="7.8" fill="#151515" stroke="#151515" stroke-width="0.35" text-anchor="middle">chr1</text>
<rect x="197.6" y="103.4" width="73.8" height="5.1" rx="2.5" fill="#000000"/>
<text x="234.5" y="116.0" font-size="7.8" fill="#151515" stroke="#151515" stroke-width="0.35" text-anchor="middle">chr2</text>
<rect x="275.6" y="103.4" width="88.0" height="5.1" rx="2.5" fill="#000000"/>
<text x="319.6" y="116.0" font-size="7.8" fill="#151515" stroke="#151515" stroke-width="0.35" text-anchor="middle">chr3</text>
<rect x="367.6" y="103.4" width="70.1" height="5.1" rx="2.5" fill="#000000"/>
<text x="402.6" y="116.0" font-size="7.8" fill="#151515" stroke="#151515" stroke-width="0.35" text-anchor="middle">chr4</text>
<rect x="441.9" y="103.4" width="101.1" height="5.1" rx="2.5" fill="#000000"/>
<text x="492.4" y="116.0" font-size="7.8" fill="#151515" stroke="#151515" stroke-width="0.35" text-anchor="middle">chr5</text>
<text x="5" y="20.9" font-size="13.1" fill="#d81a1c" style="font-style:italic">B. napus</text>
<text x="5.5" y="108.7" font-size="13.2" fill="#000" style="font-style:italic">A. thaliana</text>
<rect x="79.5" y="145.7" width="13.8" height="4.7" rx="2.4" fill="#f6a85d"/>
<text x="86.4" y="145.1" font-size="7.8" fill="#151515" stroke="#151515" stroke-width="0.35" text-anchor="middle">A01</text>
<rect x="97.4" y="145.7" width="14.6" height="4.7" rx="2.4" fill="#f6a85d"/>
<text x="104.7" y="145.1" font-size="7.8" fill="#151515" stroke="#151515" stroke-width="0.35" text-anchor="middle">A02</text>
<rect x="116.4" y="145.7" width="18.0" height="4.7" rx="2.4" fill="#f6a85d"/>
<text x="125.4" y="145.1" font-size="7.8" fill="#151515" stroke="#151515" stroke-width="0.35" text-anchor="middle">A03</text>
<rect x="138.5" y="145.7" width="11.5" height="4.7" rx="2.4" fill="#f6a85d"/>
<text x="144.2" y="145.1" font-size="7.8" fill="#151515" stroke="#151515" stroke-width="0.35" text-anchor="middle">A04</text>
<rect x="154.0" y="145.7" width="14.0" height="4.7" rx="2.4" fill="#f6a85d"/>
<text x="161.0" y="145.1" font-size="7.8" fill="#151515" stroke="#151515" stroke-width="0.35" text-anchor="middle">A05</text>
<rect x="172.2" y="145.7" width="14.2" height="4.7" rx="2.4" fill="#f6a85d"/>
<text x="179.3" y="145.1" font-size="7.8" fill="#151515" stroke="#151515" stroke-width="0.35" text-anchor="middle">A06</text>
<rect x="191.0" y="145.7" width="14.4" height="4.7" rx="2.4" fill="#f6a85d"/>
<text x="198.2" y="145.1" font-size="7.8" fill="#151515" stroke="#151515" stroke-width="0.35" text-anchor="middle">A07</text>
<rect x="209.5" y="145.7" width="10.9" height="4.7" rx="2.4" fill="#f6a85d"/>
<text x="214.9" y="145.1" font-size="7.8" fill="#151515" stroke="#151515" stroke-width="0.35" text-anchor="middle">A08</text>
<rect x="225.5" y="145.7" width="19.9" height="4.7" rx="2.4" fill="#f6a85d"/>
<text x="235.4" y="145.1" font-size="7.8" fill="#151515" stroke="#151515" stroke-width="0.35" text-anchor="middle">A09</text>
<rect x="249.5" y="145.7" width="10.1" height="4.7" rx="2.4" fill="#f6a85d"/>
<text x="254.6" y="145.1" font-size="7.8" fill="#151515" stroke="#151515" stroke-width="0.35" text-anchor="middle">A10</text>
<rect x="264.0" y="145.7" width="23.4" height="4.7" rx="2.4" fill="#f6a85d"/>
<text x="275.7" y="145.1" font-size="7.8" fill="#151515" stroke="#151515" stroke-width="0.35" text-anchor="middle">C01</text>
<rect x="291.7" y="145.7" width="27.9" height="4.7" rx="2.4" fill="#f6a85d"/>
<text x="305.6" y="145.1" font-size="7.8" fill="#151515" stroke="#151515" stroke-width="0.35" text-anchor="middle">C02</text>
<rect x="323.6" y="145.7" width="36.4" height="4.7" rx="2.4" fill="#f6a85d"/>
<text x="341.8" y="145.1" font-size="7.8" fill="#151515" stroke="#151515" stroke-width="0.35" text-anchor="middle">C03</text>
<rect x="364.4" y="145.7" width="29.6" height="4.7" rx="2.4" fill="#f6a85d"/>
<text x="379.2" y="145.1" font-size="7.8" fill="#151515" stroke="#151515" stroke-width="0.35" text-anchor="middle">C04</text>
<rect x="398.0" y="145.7" width="26.6" height="4.7" rx="2.4" fill="#f6a85d"/>
<text x="411.3" y="145.1" font-size="7.8" fill="#151515" stroke="#151515" stroke-width="0.35" text-anchor="middle">C05</text>
<rect x="428.5" y="145.7" width="21.9" height="4.7" rx="2.4" fill="#f6a85d"/>
<text x="439.4" y="145.1" font-size="7.8" fill="#151515" stroke="#151515" stroke-width="0.35" text-anchor="middle">C06</text>
<rect x="455.0" y="145.7" width="26.8" height="4.7" rx="2.4" fill="#f6a85d"/>
<text x="468.4" y="145.1" font-size="7.8" fill="#151515" stroke="#151515" stroke-width="0.35" text-anchor="middle">C07</text>
<rect x="486.0" y="145.7" width="23.1" height="4.7" rx="2.4" fill="#f6a85d"/>
<text x="497.6" y="145.1" font-size="7.8" fill="#151515" stroke="#151515" stroke-width="0.35" text-anchor="middle">C08</text>
<rect x="513.6" y="145.7" width="28.8" height="4.7" rx="2.4" fill="#f6a85d"/>
<text x="528.0" y="145.1" font-size="7.8" fill="#151515" stroke="#151515" stroke-width="0.35" text-anchor="middle">C09</text>
<rect x="79.4" y="236.5" width="47.0" height="4.4" rx="2.2" fill="#3175b3"/>
<text x="102.9" y="249.0" font-size="7.8" fill="#151515" stroke="#151515" stroke-width="0.35" text-anchor="middle">chr1</text>
<rect x="131.5" y="236.5" width="45.8" height="4.4" rx="2.2" fill="#3175b3"/>
<text x="154.4" y="249.0" font-size="7.8" fill="#151515" stroke="#151515" stroke-width="0.35" text-anchor="middle">chr2</text>
<rect x="181.6" y="236.5" width="52.4" height="4.4" rx="2.2" fill="#3175b3"/>
<text x="207.8" y="249.0" font-size="7.8" fill="#151515" stroke="#151515" stroke-width="0.35" text-anchor="middle">chr3</text>
<rect x="238.9" y="236.5" width="30.5" height="4.4" rx="2.2" fill="#3175b3"/>
<text x="254.1" y="249.0" font-size="7.8" fill="#151515" stroke="#151515" stroke-width="0.35" text-anchor="middle">chr4</text>
<rect x="274.5" y="236.5" width="39.0" height="4.4" rx="2.2" fill="#3175b3"/>
<text x="294.0" y="249.0" font-size="7.8" fill="#151515" stroke="#151515" stroke-width="0.35" text-anchor="middle">chr5</text>
<rect x="318.5" y="236.5" width="43.0" height="4.4" rx="2.2" fill="#3175b3"/>
<text x="340.0" y="249.0" font-size="7.8" fill="#151515" stroke="#151515" stroke-width="0.35" text-anchor="middle">chr6</text>
<rect x="366.2" y="236.5" width="37.0" height="4.4" rx="2.2" fill="#3175b3"/>
<text x="384.7" y="249.0" font-size="7.8" fill="#151515" stroke="#151515" stroke-width="0.35" text-anchor="middle">chr7</text>
<rect x="407.7" y="236.5" width="35.9" height="4.4" rx="2.2" fill="#3175b3"/>
<text x="425.6" y="249.0" font-size="7.8" fill="#151515" stroke="#151515" stroke-width="0.35" text-anchor="middle">chr8</text>
<rect x="448.0" y="236.5" width="61.2" height="4.4" rx="2.2" fill="#3175b3"/>
<text x="478.6" y="249.0" font-size="7.8" fill="#151515" stroke="#151515" stroke-width="0.35" text-anchor="middle">chr9</text>
<rect x="513.7" y="236.5" width="29.3" height="4.4" rx="2.2" fill="#3175b3"/>
<text x="528.4" y="249.0" font-size="7.8" fill="#151515" stroke="#151515" stroke-width="0.35" text-anchor="middle">chr10</text>
<text x="4.5" y="152.8" font-size="13.1" fill="#d81a1c" style="font-style:italic">B. napus</text>
<text x="4.4" y="241.0" font-size="13.2" fill="#000" style="font-style:italic">B. rapa</text>
<rect x="79.5" y="278.9" width="13.8" height="4.4" rx="2.2" fill="#f6a85d"/>
<text x="86.4" y="277.5" font-size="7.8" fill="#151515" stroke="#151515" stroke-width="0.35" text-anchor="middle">A01</text>
<rect x="97.4" y="278.9" width="14.6" height="4.4" rx="2.2" fill="#f6a85d"/>
<text x="104.7" y="277.5" font-size="7.8" fill="#151515" stroke="#151515" stroke-width="0.35" text-anchor="middle">A02</text>
<rect x="116.4" y="278.9" width="18.0" height="4.4" rx="2.2" fill="#f6a85d"/>
<text x="125.4" y="277.5" font-size="7.8" fill="#151515" stroke="#151515" stroke-width="0.35" text-anchor="middle">A03</text>
<rect x="138.5" y="278.9" width="11.5" height="4.4" rx="2.2" fill="#f6a85d"/>
<text x="144.2" y="277.5" font-size="7.8" fill="#151515" stroke="#151515" stroke-width="0.35" text-anchor="middle">A04</text>
<rect x="154.0" y="278.9" width="14.0" height="4.4" rx="2.2" fill="#f6a85d"/>
<text x="161.0" y="277.5" font-size="7.8" fill="#151515" stroke="#151515" stroke-width="0.35" text-anchor="middle">A05</text>
<rect x="172.2" y="278.9" width="14.2" height="4.4" rx="2.2" fill="#f6a85d"/>
<text x="179.3" y="277.5" font-size="7.8" fill="#151515" stroke="#151515" stroke-width="0.35" text-anchor="middle">A06</text>
<rect x="191.0" y="278.9" width="14.4" height="4.4" rx="2.2" fill="#f6a85d"/>
<text x="198.2" y="277.5" font-size="7.8" fill="#151515" stroke="#151515" stroke-width="0.35" text-anchor="middle">A07</text>
<rect x="209.5" y="278.9" width="10.9" height="4.4" rx="2.2" fill="#f6a85d"/>
<text x="214.9" y="277.5" font-size="7.8" fill="#151515" stroke="#151515" stroke-width="0.35" text-anchor="middle">A08</text>
<rect x="225.5" y="278.9" width="19.9" height="4.4" rx="2.2" fill="#f6a85d"/>
<text x="235.4" y="277.5" font-size="7.8" fill="#151515" stroke="#151515" stroke-width="0.35" text-anchor="middle">A09</text>
<rect x="249.5" y="278.9" width="10.1" height="4.4" rx="2.2" fill="#f6a85d"/>
<text x="254.6" y="277.5" font-size="7.8" fill="#151515" stroke="#151515" stroke-width="0.35" text-anchor="middle">A10</text>
<rect x="264.0" y="278.9" width="23.4" height="4.4" rx="2.2" fill="#f6a85d"/>
<text x="275.7" y="277.5" font-size="7.8" fill="#151515" stroke="#151515" stroke-width="0.35" text-anchor="middle">C01</text>
<rect x="291.7" y="278.9" width="27.9" height="4.4" rx="2.2" fill="#f6a85d"/>
<text x="305.6" y="277.5" font-size="7.8" fill="#151515" stroke="#151515" stroke-width="0.35" text-anchor="middle">C02</text>
<rect x="323.6" y="278.9" width="36.4" height="4.4" rx="2.2" fill="#f6a85d"/>
<text x="341.8" y="277.5" font-size="7.8" fill="#151515" stroke="#151515" stroke-width="0.35" text-anchor="middle">C03</text>
<rect x="364.4" y="278.9" width="29.6" height="4.4" rx="2.2" fill="#f6a85d"/>
<text x="379.2" y="277.5" font-size="7.8" fill="#151515" stroke="#151515" stroke-width="0.35" text-anchor="middle">C04</text>
<rect x="398.0" y="278.9" width="26.6" height="4.4" rx="2.2" fill="#f6a85d"/>
<text x="411.3" y="277.5" font-size="7.8" fill="#151515" stroke="#151515" stroke-width="0.35" text-anchor="middle">C05</text>
<rect x="428.5" y="278.9" width="21.9" height="4.4" rx="2.2" fill="#f6a85d"/>
<text x="439.4" y="277.5" font-size="7.8" fill="#151515" stroke="#151515" stroke-width="0.35" text-anchor="middle">C06</text>
<rect x="455.0" y="278.9" width="26.8" height="4.4" rx="2.2" fill="#f6a85d"/>
<text x="468.4" y="277.5" font-size="7.8" fill="#151515" stroke="#151515" stroke-width="0.35" text-anchor="middle">C07</text>
<rect x="486.0" y="278.9" width="23.1" height="4.4" rx="2.2" fill="#f6a85d"/>
<text x="497.6" y="277.5" font-size="7.8" fill="#151515" stroke="#151515" stroke-width="0.35" text-anchor="middle">C08</text>
<rect x="513.6" y="278.9" width="28.8" height="4.4" rx="2.2" fill="#f6a85d"/>
<text x="528.0" y="277.5" font-size="7.8" fill="#151515" stroke="#151515" stroke-width="0.35" text-anchor="middle">C09</text>
<rect x="79.0" y="368.8" width="42.4" height="4.5" rx="2.2" fill="#a2d865"/>
<text x="100.2" y="381.8" font-size="7.8" fill="#151515" stroke="#151515" stroke-width="0.35" text-anchor="middle">chr1</text>
<rect x="126.2" y="368.8" width="48.7" height="4.5" rx="2.2" fill="#a2d865"/>
<text x="150.6" y="381.8" font-size="7.8" fill="#151515" stroke="#151515" stroke-width="0.35" text-anchor="middle">chr2</text>
<rect x="179.8" y="368.8" width="64.2" height="4.5" rx="2.2" fill="#a2d865"/>
<text x="211.9" y="381.8" font-size="7.8" fill="#151515" stroke="#151515" stroke-width="0.35" text-anchor="middle">chr3</text>
<rect x="248.9" y="368.8" width="44.4" height="4.5" rx="2.2" fill="#a2d865"/>
<text x="271.1" y="381.8" font-size="7.8" fill="#151515" stroke="#151515" stroke-width="0.35" text-anchor="middle">chr4</text>
<rect x="298.6" y="368.8" width="36.3" height="4.5" rx="2.2" fill="#a2d865"/>
<text x="316.8" y="381.8" font-size="7.8" fill="#151515" stroke="#151515" stroke-width="0.35" text-anchor="middle">chr5</text>
<rect x="340.0" y="368.8" width="45.0" height="4.5" rx="2.2" fill="#a2d865"/>
<text x="362.5" y="381.8" font-size="7.8" fill="#151515" stroke="#151515" stroke-width="0.35" text-anchor="middle">chr6</text>
<rect x="389.5" y="368.8" width="53.3" height="4.5" rx="2.2" fill="#a2d865"/>
<text x="416.1" y="381.8" font-size="7.8" fill="#151515" stroke="#151515" stroke-width="0.35" text-anchor="middle">chr7</text>
<rect x="447.5" y="368.8" width="46.3" height="4.5" rx="2.2" fill="#a2d865"/>
<text x="470.6" y="381.8" font-size="7.8" fill="#151515" stroke="#151515" stroke-width="0.35" text-anchor="middle">chr8</text>
<rect x="498.0" y="368.8" width="45.0" height="4.5" rx="2.2" fill="#a2d865"/>
<text x="520.5" y="381.8" font-size="7.8" fill="#151515" stroke="#151515" stroke-width="0.35" text-anchor="middle">chr9</text>
<text x="5.1" y="284.7" font-size="13.1" fill="#d81a1c" style="font-style:italic">B. napus</text>
<text x="4.7" y="373.7" font-size="13.2" fill="#000" style="font-style:italic">B. oleracea</text>
</svg>
</body></html>
